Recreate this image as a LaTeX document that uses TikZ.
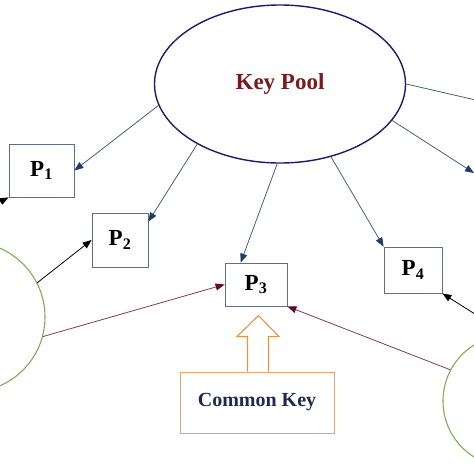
\documentclass[tikz,border=0pt]{standalone}
\usepackage{fontspec}
\setmainfont{Liberation Serif}
\usetikzlibrary{arrows.meta,shapes.geometric}
\definecolor{poolblue}{HTML}{1E1B6B}
\definecolor{poolred}{HTML}{7A1A1E}
\definecolor{boxgray}{HTML}{5E6E88}
\definecolor{linkblue}{HTML}{4C5D7A}
\definecolor{tipblue}{HTML}{1F3C6A}
\definecolor{nodegreen}{HTML}{7FAE55}
\definecolor{linkred}{HTML}{7E3E55}
\definecolor{tipred}{HTML}{5C0B2C}
\definecolor{keyorange}{HTML}{EBA46A}
\definecolor{arroworange}{HTML}{E39446}
\definecolor{keynavy}{HTML}{1E2A50}
\tikzset{
  pbox/.style={draw=boxgray, line width=0.8pt, inner sep=0pt, font=\bfseries\fontsize{23}{23}\selectfont},
  sensor/.style={circle, draw=nodegreen, line width=1.1pt, inner sep=0pt},
  keylink/.style={draw=linkblue, line width=0.8pt, -{Triangle[length=9pt,width=7pt,color=tipblue]}},
  commonlink/.style={draw=linkred, line width=0.8pt, -{Triangle[length=9pt,width=7pt,color=tipred]}},
  plainlink/.style={draw=black, line width=0.8pt, -{Triangle[length=9pt,width=7pt]}},
}
\begin{document}
\begin{tikzpicture}[x=1pt,y=-1pt]
        \useasboundingbox (0,0) rectangle (474,474);
        \clip (0,0) rectangle (474,474);

        \node[ellipse, draw=poolblue, line width=1.4pt, minimum width=251pt, minimum height=158pt, inner sep=0pt,
              text=poolred, font=\bfseries\fontsize{23}{23}\selectfont] (K) at (280,84) {Key Pool};

        \node[pbox, minimum width=65pt, minimum height=53pt] (P1) at (41.5,170.5) {P\textsubscript{1}};
        \node[pbox, minimum width=56pt, minimum height=54pt] (P2) at (120,240) {P\textsubscript{2}};
        \node[pbox, minimum width=62pt, minimum height=43pt] (P3) at (256,284.5) {P\textsubscript{3}};
        \node[pbox, minimum width=58pt, minimum height=46pt] (P4) at (413,270) {P\textsubscript{4}};

        \node[sensor, minimum size=150pt] (L) at (-30,317) {};
        \node[sensor, minimum size=132pt] (R) at (509,401) {};

        \node[draw=keyorange, line width=0.9pt, minimum width=154pt, minimum height=61pt, inner sep=0pt,
              text=keynavy, font=\bfseries\fontsize{20}{20}\selectfont] (C) at (257,402.5) {Common Key};

        \coordinate (A) at (-10,207);
        \coordinate (B) at (474,173);
        \coordinate (D) at (480,101);
        \coordinate (E) at (478,316);

        \draw[keylink] (K.190) -- (P1.east);
        \draw[keylink] (K.216) -- (P2.33);
        \draw[keylink] (K.268) -- (P3.125);
        \draw[keylink] (K.305) -- (P4.north west);
        \draw[keylink] (K.342) -- (B);
        \draw[draw=linkblue, line width=0.8pt] (K.0) -- (D);

        \draw[plainlink] (A) -- (P1.south west);
        \draw[plainlink] (L.27) -- (P2.west);
        \draw[plainlink] (E) -- (P4.south east);
        \draw[commonlink] (L.-15) -- (P3.west);
        \draw[commonlink] (R.152) -- (P3.south east);

        % hollow arrow from the common key up to P3
        \draw[draw=arroworange, line width=1.1pt, shift={(C.north)}]
          (-9.5,0) -- (-9.5,-35) -- (-20,-35) -- (1.5,-56) -- (22,-35) -- (11.5,-35) -- (11.5,0);
      \end{tikzpicture}
\end{document}
